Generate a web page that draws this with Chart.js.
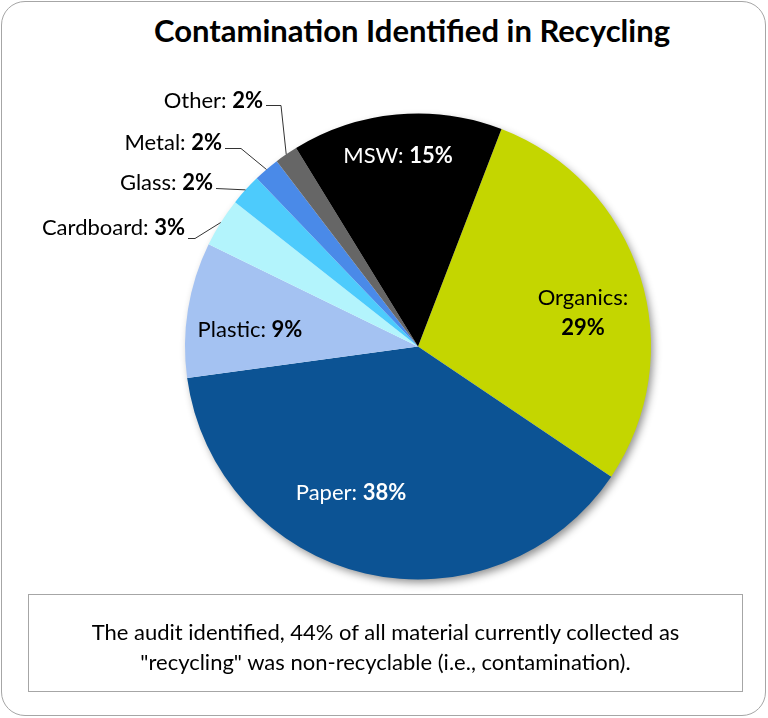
<!DOCTYPE html>
<html>
<head>
<meta charset="utf-8">
<script src="https://cdn.jsdelivr.net/npm/chart.js@4.4.1/dist/chart.umd.min.js"></script>
<style>
  html, body { margin: 0; padding: 0; background: #fff; }
  body { width: 768px; height: 718px; position: relative; overflow: hidden; font-family: Lato, "Open Sans", sans-serif; }
  .frame { position: absolute; left: 1px; top: 1px; width: 763px; height: 713px; border: 1.5px solid #a6a6a6; border-radius: 24px; }
  .title { position: absolute; left: 82px; width: 660px; top: 11px; margin: 0; text-align: center; font-size: 31px; font-weight: bold; color: #000; line-height: 38px; }
  .note { position: absolute; left: 28px; top: 594px; width: 713px; height: 96px; border: 1.5px solid #a6a6a6; text-align: center; font-size: 22px; line-height: 30px; color: #000; box-sizing: content-box; }
  .note p { margin: 0; padding-top: 22px; }
  canvas { position: absolute; left: 0; top: 0; }
</style>
</head>
<body>
<div class="frame"></div>
<h1 class="title">Contamination Identified in Recycling</h1>
<canvas id="pieChart" width="768" height="718"></canvas>
<div class="note"><p>The audit identified, 44% of all material currently collected as<br>"recycling" was non-recyclable (i.e., contamination).</p></div>
<script>
// Datos
const categorias = ["Organics", "Paper", "Plastic", "Cardboard", "Glass", "Metal", "Other", "MSW"];
const porcentajes = [28.6, 38.4, 9.4, 3.4, 2.2, 1.8, 1.6, 14.6];
const etiquetasPct = ["29%", "38%", "9%", "3%", "2%", "2%", "2%", "15%"];

const colores = ["#c4d600", "#0c5394", "#a4c2f2", "#b3f4fc", "#4dcbfc", "#4a8ae8", "#666666", "#000000"];

// Donde va cada etiqueta, relativo al centro del pastel
const etiquetasLayout = {
    Organics:  { tipo: "dentro", dx: 165, dy: -34, color: "#000", dosLineas: true },
    Paper:     { tipo: "dentro", dx: -67, dy: 146, color: "#fff" },
    Plastic:   { tipo: "dentro", dx: -168, dy: -17, color: "#000" },
    MSW:       { tipo: "dentro", dx: -20, dy: -191, color: "#fff" },
    Cardboard: { tipo: "fuera", dx: -233, dy: -119, lineDy: 11, codo: 7 },
    Glass:     { tipo: "fuera", dx: -205, dy: -164, lineDy: 6, codo: 0 },
    Metal:     { tipo: "fuera", dx: -196, dy: -204, lineDy: 6, codo: 16 },
    Other:     { tipo: "fuera", dx: -155, dy: -246, lineDy: 5, codo: 15 }
};

const FUENTE = "Lato, 'Open Sans', sans-serif";
const TAM = 22;

// Sombra bajo el pastel
const sombraPlugin = {
    id: "sombra",
    beforeDatasetsDraw(chart) {
        const arc = chart.getDatasetMeta(0).data[0];
        if (!arc) return;
        const { x, y, outerRadius } = arc.getProps(["x", "y", "outerRadius"], true);
        const ctx = chart.ctx;
        ctx.save();
        ctx.shadowColor = "rgba(0,0,0,0.45)";
        ctx.shadowBlur = 9;
        ctx.shadowOffsetX = 3;
        ctx.shadowOffsetY = 4;
        ctx.fillStyle = "#fff";
        ctx.beginPath();
        ctx.arc(x, y, outerRadius - 1, 0, Math.PI * 2);
        ctx.fill();
        ctx.restore();
    }
};

// Dibuja "Nombre: " normal + "NN%" negrita
function textoMixto(ctx, nombre, pct, x, y, align) {
    const fNormal = TAM + "px " + FUENTE;
    const fBold = "bold " + TAM + "px " + FUENTE;
    ctx.font = fNormal;
    const w1 = ctx.measureText(nombre).width;
    ctx.font = fBold;
    const w2 = ctx.measureText(pct).width;
    let x0 = x - (w1 + w2) / 2;
    if (align === "right") x0 = x - (w1 + w2);
    ctx.textAlign = "left";
    ctx.textBaseline = "middle";
    ctx.font = fNormal;
    ctx.fillText(nombre, x0, y);
    ctx.font = fBold;
    ctx.fillText(pct, x0 + w1, y);
}

const etiquetasPlugin = {
    id: "etiquetas",
    afterDatasetsDraw(chart) {
        const ctx = chart.ctx;
        const meta = chart.getDatasetMeta(0);
        meta.data.forEach((arc, i) => {
            const nombre = categorias[i];
            const lay = etiquetasLayout[nombre];
            if (!lay) return;
            const p = arc.getProps(["x", "y", "startAngle", "endAngle", "outerRadius"], true);
            const lx = p.x + lay.dx;
            const ly = p.y + lay.dy;
            ctx.save();
            if (lay.tipo === "dentro") {
                ctx.fillStyle = lay.color;
                if (lay.dosLineas) {
                    ctx.font = TAM + "px " + FUENTE;
                    ctx.textAlign = "center";
                    ctx.textBaseline = "middle";
                    ctx.fillText(nombre + ":", lx, ly - 15);
                    ctx.font = "bold " + TAM + "px " + FUENTE;
                    ctx.fillText(etiquetasPct[i], lx, ly + 15);
                } else {
                    textoMixto(ctx, nombre + ": ", etiquetasPct[i], lx, ly, "center");
                }
            } else {
                const mid = (p.startAngle + p.endAngle) / 2;
                const ax = p.x + Math.cos(mid) * p.outerRadius;
                const ay = p.y + Math.sin(mid) * p.outerRadius;
                ctx.fillStyle = "#000";
                textoMixto(ctx, nombre + ": ", etiquetasPct[i], lx, ly, "right");
                // linea guia
                const yl = ly + lay.lineDy;
                ctx.strokeStyle = "#333";
                ctx.lineWidth = 1;
                ctx.beginPath();
                ctx.moveTo(lx + 3, yl);
                ctx.lineTo(lx + 3 + lay.codo, yl);
                ctx.lineTo(ax, ay);
                ctx.stroke();
            }
            ctx.restore();
        });
    }
};

new Chart(document.getElementById("pieChart"), {
    type: "pie",
    data: {
        labels: categorias,
        datasets: [{
            data: porcentajes,
            backgroundColor: colores,
            borderWidth: 0
        }]
    },
    options: {
        responsive: false,
        animation: false,
        rotation: 21,
        layout: { padding: { left: 185, right: 117, top: 113, bottom: 138 } },
        plugins: {
            legend: { display: false },
            tooltip: { enabled: false }
        }
    },
    plugins: [sombraPlugin, etiquetasPlugin]
});
</script>
</body>
</html>
